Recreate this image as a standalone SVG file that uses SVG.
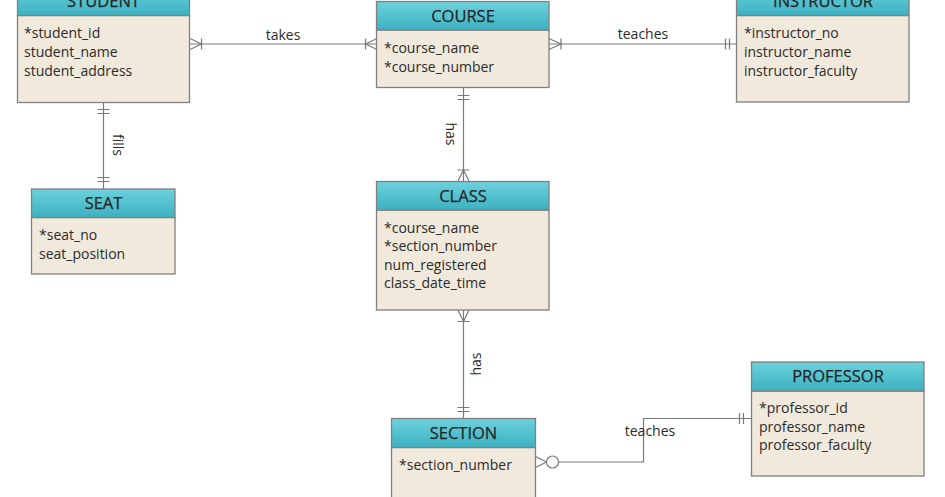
<svg xmlns="http://www.w3.org/2000/svg" width="945" height="497" viewBox="0 0 945 497">
<defs>
<linearGradient id="hg" x1="0" y1="0" x2="0" y2="1">
<stop offset="0" stop-color="#6dd1dc"/>
<stop offset="1" stop-color="#3cb1c1"/>
</linearGradient>
<style>
.body{fill:#f1e9db;stroke:#808080;stroke-width:1.3}
.head{fill:url(#hg);stroke:#808080;stroke-width:1.3}
.title{font-family:"Open Sans","DejaVu Sans",sans-serif;font-size:16.5px;fill:#262626;stroke:#262626;stroke-width:0.25;text-anchor:middle}
.attr{font-family:"Open Sans","DejaVu Sans",sans-serif;font-size:14px;fill:#2b2b2b}
.lbl{font-family:"Open Sans","DejaVu Sans",sans-serif;font-size:14px;fill:#2b2b2b;text-anchor:middle}
.ln{fill:none;stroke:#7a7a7a;stroke-width:1.2}
.circ{fill:#ffffff;stroke:#7a7a7a;stroke-width:1.2}
</style>
</defs>
<rect width="945" height="497" fill="#ffffff"/>

<g id="connectors">
<!-- takes -->
<path class="ln" d="M190,44 H377"/>
<path class="ln" d="M190,38.5 L201.5,44 L190,49.5 M201.5,38.5 V49.5"/>
<path class="ln" d="M377,38.5 L365.5,44 L377,49.5 M365.5,38.5 V49.5"/>
<text class="lbl" x="283" y="40">takes</text>
<!-- teaches top -->
<path class="ln" d="M549,44 H737"/>
<path class="ln" d="M549,38.5 L561,44 L549,49.5 M561,38.5 V49.5"/>
<path class="ln" d="M725.5,38.5 V49.5 M729.5,38.5 V49.5"/>
<text class="lbl" x="643" y="39">teaches</text>
<!-- fills -->
<path class="ln" d="M103.5,102 V189"/>
<path class="ln" d="M97.5,109.5 H109.5 M97.5,113.5 H109.5 M97.5,177.5 H109.5 M97.5,181.5 H109.5"/>
<text class="lbl" transform="translate(113,145) rotate(90)">fills</text>
<!-- has course-class -->
<path class="ln" d="M463.5,87 V181"/>
<path class="ln" d="M457.5,95.5 H469.5 M457.5,99.5 H469.5"/>
<path class="ln" d="M457.5,170 H469.5 M458,181 L463.5,170 L469,181"/>
<text class="lbl" transform="translate(446,134) rotate(90)">has</text>
<!-- has class-section -->
<path class="ln" d="M463.5,310 V418"/>
<path class="ln" d="M458,310 L463.5,321.5 L469,310 M457.5,321.5 H469.5"/>
<path class="ln" d="M457.5,407.5 H469.5 M457.5,411.5 H469.5"/>
<text class="lbl" transform="translate(481,364) rotate(-90)">has</text>
<!-- teaches section-professor -->
<path class="ln" d="M558.5,462 H643.5 V418.5 H751"/>
<path class="ln" d="M535.5,456.5 L546.5,462 L535.5,467.5"/>
<circle class="circ" cx="552.5" cy="462" r="6"/>
<path class="ln" d="M739.5,413 V424 M743.5,413 V424"/>
<text class="lbl" x="650" y="436">teaches</text>
</g>

<g id="student">
<rect class="body" x="17.5" y="15.5" width="172" height="87"/>
<rect class="head" x="17.5" y="-14" width="172" height="29.5"/>
<text class="title" x="103.5" y="6.5">STUDENT</text>
<text class="attr" x="24" y="38">*student_id</text>
<text class="attr" x="24" y="57">student_name</text>
<text class="attr" x="24" y="76">student_address</text>
</g>

<g id="course">
<rect class="body" x="376.5" y="30" width="172.5" height="57.5"/>
<rect class="head" x="376.5" y="1.5" width="172.5" height="28.5"/>
<text class="title" x="463" y="21.5">COURSE</text>
<text class="attr" x="384" y="52.5">*course_name</text>
<text class="attr" x="384" y="71.5">*course_number</text>
</g>

<g id="instructor">
<rect class="body" x="736.5" y="15.5" width="172.5" height="86.5"/>
<rect class="head" x="736.5" y="-14" width="172.5" height="29.5"/>
<text class="title" x="823" y="6.5">INSTRUCTOR</text>
<text class="attr" x="744" y="38">*instructor_no</text>
<text class="attr" x="744" y="57">instructor_name</text>
<text class="attr" x="744" y="76">instructor_faculty</text>
</g>

<g id="seat">
<rect class="body" x="31.5" y="217.5" width="143.5" height="56.5"/>
<rect class="head" x="31.5" y="189" width="143.5" height="28.5"/>
<text class="title" x="103.5" y="209">SEAT</text>
<text class="attr" x="39" y="239.5">*seat_no</text>
<text class="attr" x="39" y="258.5">seat_position</text>
</g>

<g id="class">
<rect class="body" x="376.5" y="210" width="172.5" height="100"/>
<rect class="head" x="376.5" y="181.5" width="172.5" height="28.5"/>
<text class="title" x="463" y="201.5">CLASS</text>
<text class="attr" x="384" y="232.5">*course_name</text>
<text class="attr" x="384" y="251">*section_number</text>
<text class="attr" x="384" y="269.5">num_registered</text>
<text class="attr" x="384" y="288">class_date_time</text>
</g>

<g id="section">
<rect class="body" x="391.5" y="447.5" width="144" height="60"/>
<rect class="head" x="391.5" y="418.5" width="144" height="29"/>
<text class="title" x="463.5" y="439">SECTION</text>
<text class="attr" x="399" y="469.5">*section_number</text>
</g>

<g id="professor">
<rect class="body" x="751.5" y="391" width="172.5" height="85"/>
<rect class="head" x="751.5" y="362" width="172.5" height="29"/>
<text class="title" x="838" y="382">PROFESSOR</text>
<text class="attr" x="759" y="412.5">*professor_id</text>
<text class="attr" x="759" y="431.5">professor_name</text>
<text class="attr" x="759" y="450">professor_faculty</text>
</g>
</svg>
